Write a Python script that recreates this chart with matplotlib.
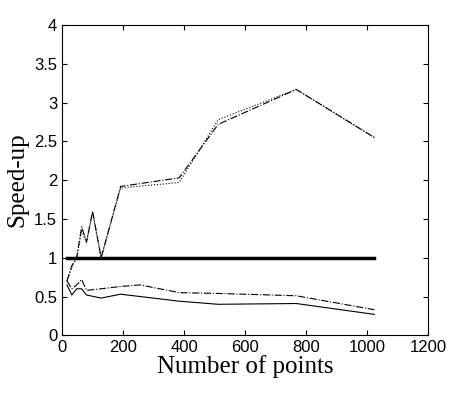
import matplotlib
matplotlib.use('Agg')
import matplotlib.pyplot as plt

plt.rcParams['font.family'] = 'Liberation Serif'

# data
x_up = [16, 32, 48, 64, 80, 100, 128, 192, 384, 512, 768, 1024]
dashdot_up = [0.7, 0.9, 1.0, 1.4, 1.2, 1.6, 1.0, 1.92, 2.03, 2.72, 3.17, 2.55]
dotted_up = [0.7, 0.88, 1.0, 1.35, 1.2, 1.58, 1.0, 1.9, 1.97, 2.78, 3.17, 2.55]
x_low = [16, 32, 48, 64, 80, 128, 192, 256, 384, 512, 768, 1024]
dashdot_low = [0.7, 0.6, 0.65, 0.72, 0.58, 0.6, 0.63, 0.65, 0.55, 0.54, 0.51, 0.33]
solid_low = [0.65, 0.52, 0.6, 0.6, 0.52, 0.48, 0.53, 0.5, 0.44, 0.4, 0.41, 0.27]
base_x = [16, 1024]
base_y = [1, 1]

fig = plt.figure(figsize=(4.74, 4.04), dpi=100)
ax = fig.add_axes([0.131, 0.17, 0.772, 0.768])
ax.plot(x_up, dotted_up, color='black', lw=0.8, ls=':')
ax.plot(x_up, dashdot_up, color='black', lw=0.8, ls='-.')
ax.plot(x_low, dashdot_low, color='black', lw=0.8, ls='-.')
ax.plot(x_low, solid_low, color='black', lw=0.8, ls='-')
ax.plot(base_x, base_y, color='black', lw=2.5)
ax.set_xlim(0, 1200)
ax.set_ylim(0, 4)
ax.set_xticks(range(0, 1201, 200))
ax.set_yticks([0, 0.5, 1, 1.5, 2, 2.5, 3, 3.5, 4])
ax.set_yticklabels(['0', '0.5', '1', '1.5', '2', '2.5', '3', '3.5', '4'])
ax.tick_params(direction='in', labelsize=12, top=True, right=True)
for lab in ax.get_xticklabels() + ax.get_yticklabels():
    lab.set_family('Liberation Sans')
ax.set_xlabel('Number of points', fontsize=18, labelpad=0)
ax.set_ylabel('Speed-up', fontsize=18)
fig.savefig('out.png')
